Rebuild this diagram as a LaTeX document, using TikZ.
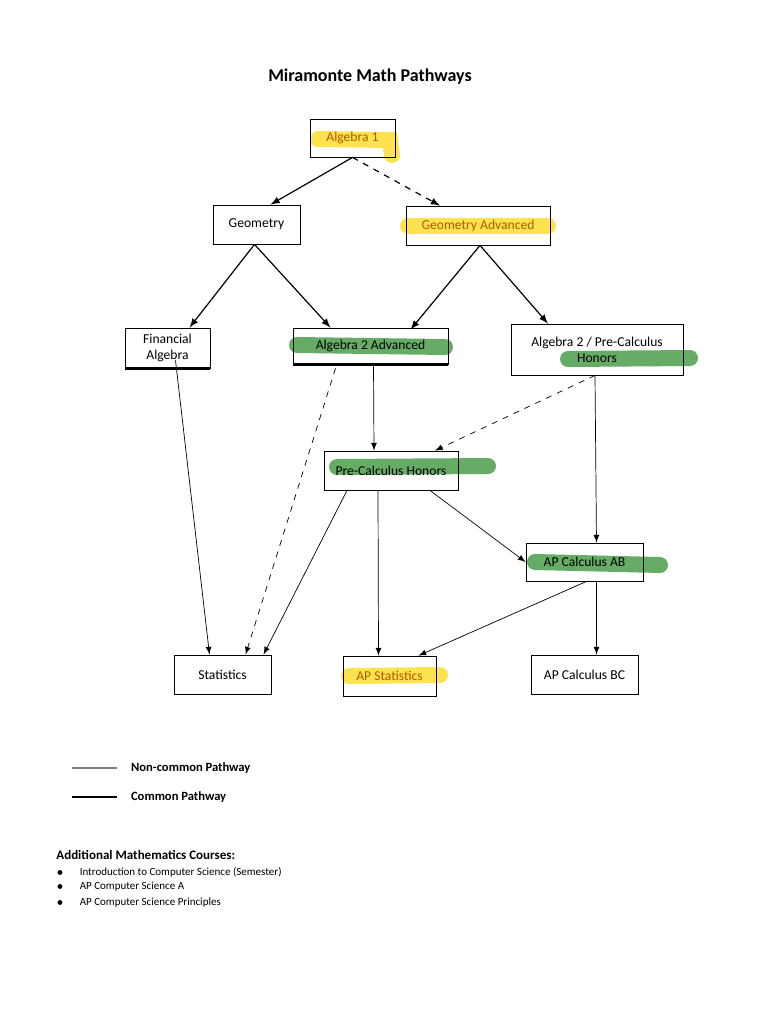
\documentclass[tikz,border=0pt]{standalone}
\usepackage{fontspec}
\setmainfont{Carlito}
\begin{document}
\begin{tikzpicture}[x=0.5pt,y=-0.5pt,>=latex,font=\fontsize{6.8}{8}\selectfont]
  \tikzstyle{course}=[draw,thin,rectangle,inner sep=0pt,align=center]
  \tikzstyle{common}=[->,line width=0.6pt]
  \tikzstyle{noncommon}=[->,line width=0.35pt]
  \tikzstyle{yhl}=[line width=8pt,line cap=round,color=yellow!75!orange,opacity=0.7]
  \tikzstyle{ghl}=[line width=8pt,line cap=round,color=green!45!black,opacity=0.6]
  \useasboundingbox (0,0) rectangle (768,1024);

  % highlights
  \draw[yhl] (318,139) -- (390,140) -- (392,155);
  \draw[yhl] (408,226) -- (548,226);
  \draw[yhl] (349,676) -- (440,675);
  \draw[ghl] (297,345) -- (445,347);
  \draw[ghl] (568,359) -- (690,358);
  \draw[ghl] (337,467) -- (488,466);
  \draw[ghl] (535,562) -- (660,565);

  % courses
  \node[course,minimum width=42.5pt,minimum height=19pt,text=orange!70!black] (alg1) at (352.5,138) {Algebra 1};
  \node[course,minimum width=43.5pt,minimum height=19.5pt] (geo) at (256.5,224.5) {Geometry};
  \node[course,minimum width=72pt,minimum height=19.5pt,text=orange!70!black] (geoadv) at (478,225.5) {Geometry Advanced};
  \node[course,minimum width=42.5pt,minimum height=20pt] (finalg) at (167.5,348) {Financial\\Algebra};
  \node[course,minimum width=77.5pt,minimum height=18pt] (alg2adv) at (370.5,346) {Algebra 2 Advanced};
  \node[course,minimum width=86pt,minimum height=25.5pt] (alg2pch) at (597,349.5) {Algebra 2 / Pre-Calculus\\Honors};
  \node[course,minimum width=67pt,minimum height=19.5pt] (pch) at (391,470.5) {Pre-Calculus Honors};
  \node[course,minimum width=58.5pt,minimum height=19pt] (calcab) at (584.5,562) {AP Calculus AB};
  \node[course,minimum width=48.5pt,minimum height=19.5pt] (stats) at (222.5,674.5) {Statistics};
  \node[course,minimum width=46.5pt,minimum height=20pt,text=orange!70!black] (apstat) at (389.5,676) {AP Statistics};
  \node[course,minimum width=53.5pt,minimum height=19.5pt] (calcbc) at (584.5,674.5) {AP Calculus BC};
  \draw[line width=1.2pt] (finalg.south west) -- (finalg.south east);
  \draw[line width=1.2pt] (alg2adv.south west) -- (alg2adv.south east);

  % pathways
  \draw[common] (alg1.south) -- ([xshift=7pt]geo.north);
  \draw[common,dashed] (alg1.south) -- ([xshift=-19pt]geoadv.north);
  \draw[common] ([xshift=-1pt]geo.south) -- ([xshift=11pt]finalg.north);
  \draw[common] ([xshift=-1pt]geo.south) -- ([xshift=-20pt]alg2adv.north);
  \draw[common] ([xshift=1pt]geoadv.south) -- ([xshift=20pt,yshift=-1pt]alg2adv.north);
  \draw[common] ([xshift=1pt]geoadv.south) -- ([xshift=-24.5pt]alg2pch.north);
  \draw[noncommon] ([xshift=4pt,yshift=4pt]finalg.south) -- ([xshift=-6.5pt]stats.north);
  \draw[noncommon,dashed] ([xshift=-17.5pt,yshift=-2pt]alg2adv.south) -- ([xshift=11.5pt]stats.north);
  \draw[noncommon] ([xshift=1.5pt]alg2adv.south) -- ([xshift=-8.5pt]pch.north);
  \draw[noncommon,dashed] ([xshift=-1pt]alg2pch.south) -- ([xshift=22pt]pch.north);
  \draw[noncommon] ([xshift=-1pt]alg2pch.south) -- ([xshift=6pt]calcab.north);
  \draw[noncommon] ([xshift=-22pt]pch.south) -- ([xshift=20.5pt]stats.north);
  \draw[noncommon] ([xshift=-6.5pt]pch.south) -- ([xshift=-5.5pt]apstat.north);
  \draw[noncommon] ([xshift=19.5pt]pch.south) -- (calcab.west);
  \draw[noncommon] ([xshift=1pt]calcab.south) -- ([xshift=14.5pt]apstat.north);
  \draw[noncommon] ([xshift=6pt]calcab.south) -- ([xshift=6pt]calcbc.north);

  % title and legend
  \node[font=\fontsize{9}{10}\selectfont\bfseries] (title) at (370,77) {Miramonte Math Pathways};
  \coordinate (nca) at (72,768); \coordinate (ncb) at (117,768);
  \coordinate (ca) at (72,797); \coordinate (cb) at (117,797);
  \draw[line width=1.4pt,gray] (nca) -- (ncb);
  \draw[line width=1.4pt] (ca) -- (cb);
  \node[anchor=west,font=\fontsize{6.3}{7}\selectfont\bfseries] (ncl) at (124,768) {Non-common Pathway};
  \node[anchor=west,font=\fontsize{6.3}{7}\selectfont\bfseries] (cl) at (124,797) {Common Pathway};
  \node[anchor=west,inner sep=0pt,font=\fontsize{6.5}{7.5}\selectfont\bfseries] (more) at (56,855) {Additional Mathematics Courses:};
  \foreach \y/\t in {872/Introduction to Computer Science (Semester),887/AP Computer Science A,903/AP Computer Science Principles}
    \node[anchor=west,inner sep=0pt,font=\fontsize{5.5}{6.5}\selectfont] at (56,\y) {$\bullet$\hspace{8pt}\t};
\end{tikzpicture}
\end{document}
